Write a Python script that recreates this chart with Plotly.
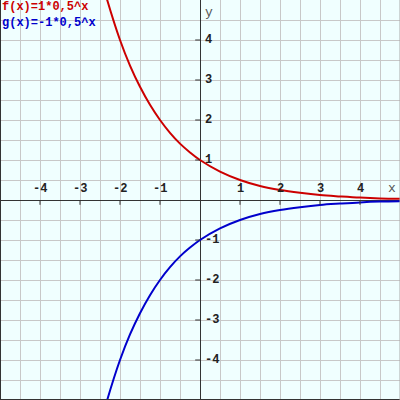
import plotly.graph_objects as go

# sample points of the two curves
x_vals = [-2.5, -2.32, -2.0, -1.75, -1.5, -1.25, -1.0, -0.75, -0.5, -0.25, 0.0,
          0.5, 1.0, 1.5, 2.0, 2.5, 3.0, 3.5, 4.0, 4.5, 5.0]
f_vals = [5.66, 5.0, 4.0, 3.36, 2.83, 2.38, 2.0, 1.68, 1.41, 1.19, 1.0,
          0.71, 0.5, 0.35, 0.25, 0.18, 0.125, 0.09, 0.06, 0.04, 0.03]
g_vals = [-5.66, -5.0, -4.0, -3.36, -2.83, -2.38, -2.0, -1.68, -1.41, -1.19, -1.0,
          -0.71, -0.5, -0.35, -0.25, -0.18, -0.125, -0.09, -0.06, -0.04, -0.03]

x_ticks = [-4, -3, -2, -1, 1, 2, 3, 4]
y_ticks = [-4, -3, -2, -1, 1, 2, 3, 4]

names = ["f(x)=1*0,5^x", "g(x)=-1*0,5^x"]
colors = ["#cc0000", "#0000cc"]

MONO = "Liberation Mono"

fig = go.Figure()
for name, ys, c in zip(names, [f_vals, g_vals], colors):
    fig.add_trace(go.Scatter(
        x=x_vals, y=ys, name=name, mode="lines",
        line=dict(color=c, width=2, shape="spline"),
        hoverinfo="skip"
    ))

shapes = []
annotations = []

# tick marks and labels on the axes
for t in x_ticks:
    shapes.append(dict(type="line", xref="x", yref="y", x0=t, x1=t, y0=0, y1=-0.12,
                       line=dict(color="#333333", width=1)))
    annotations.append(dict(x=t, y=0, xref="x", yref="y", text="<b>%d</b>" % t,
                            showarrow=False, yanchor="bottom", yshift=2,
                            font=dict(family=MONO, size=12, color="#222222")))
for t in y_ticks:
    shapes.append(dict(type="line", xref="x", yref="y", x0=0, x1=-0.12, y0=t, y1=t,
                       line=dict(color="#333333", width=1)))
    annotations.append(dict(x=0, y=t, xref="x", yref="y", text="<b>%d</b>" % t,
                            showarrow=False, xanchor="left", xshift=3,
                            font=dict(family=MONO, size=12, color="#222222")))

# axis names
annotations.append(dict(x=0, y=5, xref="x", yref="y", text="y", showarrow=False,
                        xanchor="left", yanchor="top", xshift=3, yshift=-3,
                        font=dict(family=MONO, size=13, color="#555555")))
annotations.append(dict(x=5, y=0, xref="x", yref="y", text="x", showarrow=False,
                        xanchor="right", yanchor="bottom", xshift=-2, yshift=2,
                        font=dict(family=MONO, size=13, color="#555555")))

# function labels top-left
label_text = "<br>".join("<span style='color:%s'><b>%s</b></span>" % (c, n)
                         for n, c in zip(names, colors))
annotations.append(dict(x=0, y=1, xref="paper", yref="paper", text=label_text,
                        showarrow=False, xanchor="left", yanchor="top", align="left",
                        yshift=2, font=dict(family=MONO, size=12)))

# frame
shapes.append(dict(type="line", xref="paper", yref="paper", x0=0, x1=0, y0=0, y1=1,
                   line=dict(color="#333333", width=2)))
shapes.append(dict(type="line", xref="paper", yref="paper", x0=0, x1=1, y0=0, y1=0,
                   line=dict(color="#333333", width=2)))
shapes.append(dict(type="line", xref="paper", yref="paper", x0=1, x1=1, y0=0, y1=1,
                   line=dict(color="#aaaaaa", width=1)))

axis = dict(range=[-5, 5], dtick=0.5, tick0=0, showgrid=True, gridcolor="#c8c8c8",
            gridwidth=1, zeroline=True, zerolinecolor="#333333", zerolinewidth=1,
            showticklabels=False, ticks="", fixedrange=True)

fig.update_layout(
    width=400, height=400,
    margin=dict(l=0, r=0, t=0, b=0),
    paper_bgcolor="#f0ffff",
    plot_bgcolor="#f0ffff",
    showlegend=False,
    xaxis=axis,
    yaxis=axis,
    shapes=shapes,
    annotations=annotations,
)

fig.write_html("out.html", config={"displayModeBar": False},
               post_script="document.body.style.margin='0';document.body.style.overflow='hidden';")
